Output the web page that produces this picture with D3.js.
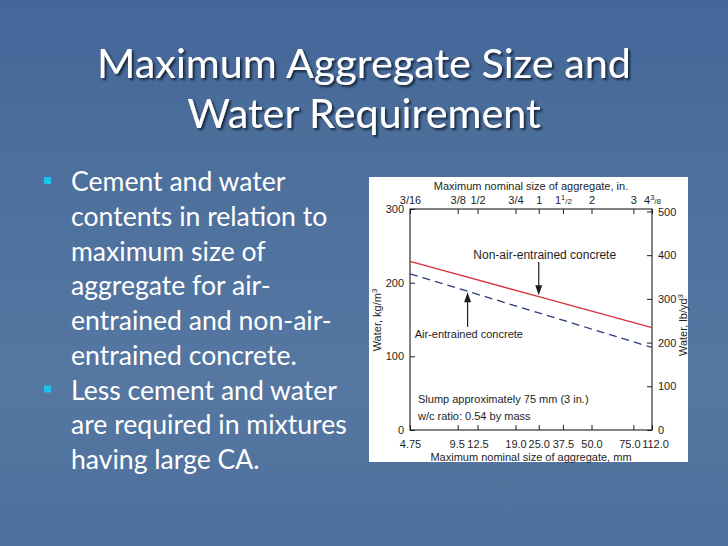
<!DOCTYPE html>
<html><head><meta charset="utf-8">
<script src="https://cdn.jsdelivr.net/npm/d3@7"></script>
<style>body{margin:0;background:#4f719d;} svg{display:block}</style>
</head><body><svg id="c" width="728" height="546"></svg>
<script>
// ---------- data ----------
const titleLines = ["Maximum Aggregate Size and", "Water Requirement"];
const bulletLines = [
  ["Cement and water", "contents in relation to", "maximum size of", "aggregate for air-", "entrained and non-air-", "entrained concrete."],
  ["Less cement and water", "are required in mixtures", "having large CA."]
];
const mmTicks = [4.75, 9.5, 12.5, 19, 25, 37.5, 50, 75, 112];
const mmLabels = ["4.75", "9.5", "12.5", "19.0", "25.0", "37.5", "50.0", "75.0", "112.0"];
const inchLabels = [["3/16"], ["3/8"], ["1/2"], ["3/4"], ["1"], ["1", "1", "2"], ["2"], ["3"], ["4", "3", "8"]];
// the original figure's (roughly logarithmic, hand-spaced) size axis: share of axis length at each tick
const mmTickShare = [0, 0.197, 0.279, 0.436, 0.532, 0.632, 0.750, 0.923, 1];
const kgTicks = [0, 100, 200, 300];
const lbTicks = [0, 100, 200, 300, 400, 500];
const seriesSizes = [4.75, 25, 112];
const nonAirWater = [229, 181, 139];
const airWater = [212, 159, 112];
const kgToLb = 1.6856;

// ---------- slide ----------
const svg = d3.select("#c");
const defs = svg.append("defs");
const grad = defs.append("linearGradient").attr("id", "bg").attr("x1", 0).attr("y1", 0).attr("x2", 0).attr("y2", 1);
[[0, "#44669a"], [0.25, "#4c6e9b"], [0.7, "#5577a2"], [1, "#4d6f9b"]].forEach(s =>
  grad.append("stop").attr("offset", s[0]).attr("stop-color", s[1]));
const sh = defs.append("filter").attr("id", "shadow").attr("x", "-5%").attr("y", "-20%").attr("width", "110%").attr("height", "140%");
sh.append("feDropShadow").attr("dx", 2).attr("dy", 2).attr("stdDeviation", 0.8)
  .attr("flood-color", "#101c30").attr("flood-opacity", 0.9);
svg.append("rect").attr("width", 728).attr("height", 546).attr("fill", "url(#bg)");

function fitSize(sel, target) {
  const w = sel.node().getComputedTextLength();
  return parseFloat(sel.attr("font-size")) * target / w;
}

// title
const titleFont = "Lato, 'Open Sans', sans-serif";
const tBase = [78, 128];
const probe = svg.append("text").attr("font-family", titleFont).attr("font-size", 40).text(titleLines[0]);
const tSize = fitSize(probe, 534);
probe.remove();
titleLines.forEach((t, i) => {
  svg.append("text").attr("x", 364).attr("y", tBase[i]).attr("text-anchor", "middle")
    .attr("font-family", titleFont).attr("font-size", tSize).attr("fill", "#ffffff")
    .attr("filter", "url(#shadow)").text(t);
});

// bullets
const bodyFont = "Lato, 'Open Sans', sans-serif";
const probe2 = svg.append("text").attr("font-family", bodyFont).attr("font-size", 28).text(bulletLines[1][1]);
const bSize = fitSize(probe2, 276);
probe2.remove();
let lineIdx = 0;
bulletLines.forEach(group => {
  group.forEach((t, j) => {
    const yb = 191 + 34.75 * lineIdx;
    if (j === 0) svg.append("rect").attr("x", 44).attr("y", yb - 14).attr("width", 7).attr("height", 7).attr("fill", "#1ec0f2");
    svg.append("text").attr("x", 71).attr("y", yb).attr("font-family", bodyFont).attr("font-size", bSize)
      .attr("fill", "#ffffff").text(t);
    lineIdx++;
  });
});

// ---------- chart ----------
svg.append("rect").attr("x", 369).attr("y", 177).attr("width", 319).attr("height", 285).attr("fill", "#ffffff");
const cf = "'Liberation Sans', Arial, sans-serif";
const ink = "#1e1e1e";
const plotL = 410, plotR = 652, plotT = 209, plotB = 430;
const x = d3.scaleLinear().domain(mmTicks).range(mmTickShare.map(f => plotL + f * (plotR - plotL)));
const y = d3.scaleLinear().domain([0, 300]).range([plotB, plotT]);
const yR = d3.scaleLinear().domain([0, 300 * kgToLb]).range([plotB, plotT]);

function styleAxis(g) {
  g.attr("font-family", cf).attr("font-size", 11);
  g.select(".domain").remove();
  g.selectAll(".tick line").attr("stroke", ink).attr("stroke-width", 1);
  g.selectAll(".tick text").attr("fill", ink);
}
// bottom
const botAx = svg.append("g").attr("transform", `translate(0,${plotB})`)
  .call(d3.axisBottom(x).tickValues(mmTicks).tickFormat((d, i) => mmLabels[i]).tickSizeInner(-5).tickSizeOuter(0).tickPadding(10))
  .call(styleAxis);
// crowded labels at the ends are nudged apart, as in the original figure
botAx.selectAll(".tick text").attr("dx", d => d === 75 ? -4 : d === 112 ? 3 : d === 9.5 ? -1 : 0);
// top
const topAx = svg.append("g").attr("transform", `translate(0,${plotT})`)
  .call(d3.axisTop(x).tickValues(mmTicks).tickFormat(() => "").tickSizeInner(-5).tickSizeOuter(0).tickPadding(5))
  .call(styleAxis);
topAx.selectAll(".tick text").each(function (d, i) {
  const t = d3.select(this);
  const p = inchLabels[i];
  t.text(p[0]);
  if (p.length === 3) {
    t.append("tspan").attr("font-size", 7.5).attr("dy", -4).text(p[1]);
    t.append("tspan").attr("font-size", 8).attr("dy", 4).text("/" + p[2]);
  }
});
// left
svg.append("g").attr("transform", `translate(${plotL},0)`)
  .call(d3.axisLeft(y).tickValues(kgTicks).tickSizeInner(-5).tickSizeOuter(0).tickPadding(6))
  .call(styleAxis);
// right
svg.append("g").attr("transform", `translate(${plotR},0)`)
  .call(d3.axisRight(yR).tickValues(lbTicks).tickSizeInner(-5).tickSizeOuter(0).tickPadding(6))
  .call(styleAxis);
// box
svg.append("rect").attr("x", plotL).attr("y", plotT).attr("width", plotR - plotL).attr("height", plotB - plotT)
  .attr("fill", "none").attr("stroke", ink).attr("stroke-width", 1.1);

// axis titles
svg.append("text").attr("x", 531).attr("y", 190).attr("text-anchor", "middle").attr("font-family", cf)
  .attr("font-size", 11).attr("fill", ink).text("Maximum nominal size of aggregate, in.");
svg.append("text").attr("x", 531).attr("y", 461).attr("text-anchor", "middle").attr("font-family", cf)
  .attr("font-size", 11).attr("fill", ink).text("Maximum nominal size of aggregate, mm");
const lt = svg.append("text").attr("transform", "translate(381,320) rotate(-90)").attr("text-anchor", "middle")
  .attr("font-family", cf).attr("font-size", 11).attr("fill", ink).text("Water, kg/m");
lt.append("tspan").attr("dy", -4).attr("font-size", 8).text("3");
const rt = svg.append("text").attr("transform", "translate(687,325) rotate(-90)").attr("text-anchor", "middle")
  .attr("font-family", cf).attr("font-size", 11).attr("fill", ink).text("Water, lb/yd");
rt.append("tspan").attr("dy", -4).attr("font-size", 8).text("3");

// series
const line = d3.line().x(d => x(d[0])).y(d => y(d[1]));
svg.append("path").datum(d3.zip(seriesSizes, nonAirWater)).attr("d", line)
  .attr("fill", "none").attr("stroke", "#d8313c").attr("stroke-width", 1.4);
svg.append("path").datum(d3.zip(seriesSizes, airWater)).attr("d", line)
  .attr("fill", "none").attr("stroke", "#2b3c7c").attr("stroke-width", 1.3).attr("stroke-dasharray", "8,5");

// annotations
function arrow(size, fromV, toV) {
  const ax = x(size), y0 = y(fromV), y1 = y(toV);
  const dir = y1 > y0 ? 1 : -1;
  svg.append("line").attr("x1", ax).attr("x2", ax).attr("y1", y0).attr("y2", y1 - dir * 8)
    .attr("stroke", ink).attr("stroke-width", 1.2);
  svg.append("path").attr("d", `M${ax},${y1} L${ax - 3.5},${y1 - dir * 10} L${ax + 3.5},${y1 - dir * 10} Z`).attr("fill", ink);
}
svg.append("text").attr("x", x(25) + 6).attr("y", y(237.5) + 4).attr("text-anchor", "middle").attr("font-family", cf)
  .attr("font-size", 12).attr("fill", ink).text("Non-air-entrained concrete");
arrow(25, 228, 183);
svg.append("text").attr("x", x(5.22)).attr("y", y(130) + 4).attr("font-family", cf)
  .attr("font-size", 11).attr("fill", ink).text("Air-entrained concrete");
arrow(11, 140, 187);
svg.append("text").attr("x", x(5.55)).attr("y", y(42) + 4).attr("font-family", cf)
  .attr("font-size", 11).attr("fill", ink).text("Slump approximately 75 mm (3 in.)");
svg.append("text").attr("x", x(5.55)).attr("y", y(19.5) + 4).attr("font-family", cf)
  .attr("font-size", 11).attr("fill", ink).text("w/c ratio: 0.54 by mass");
</script></body></html>
